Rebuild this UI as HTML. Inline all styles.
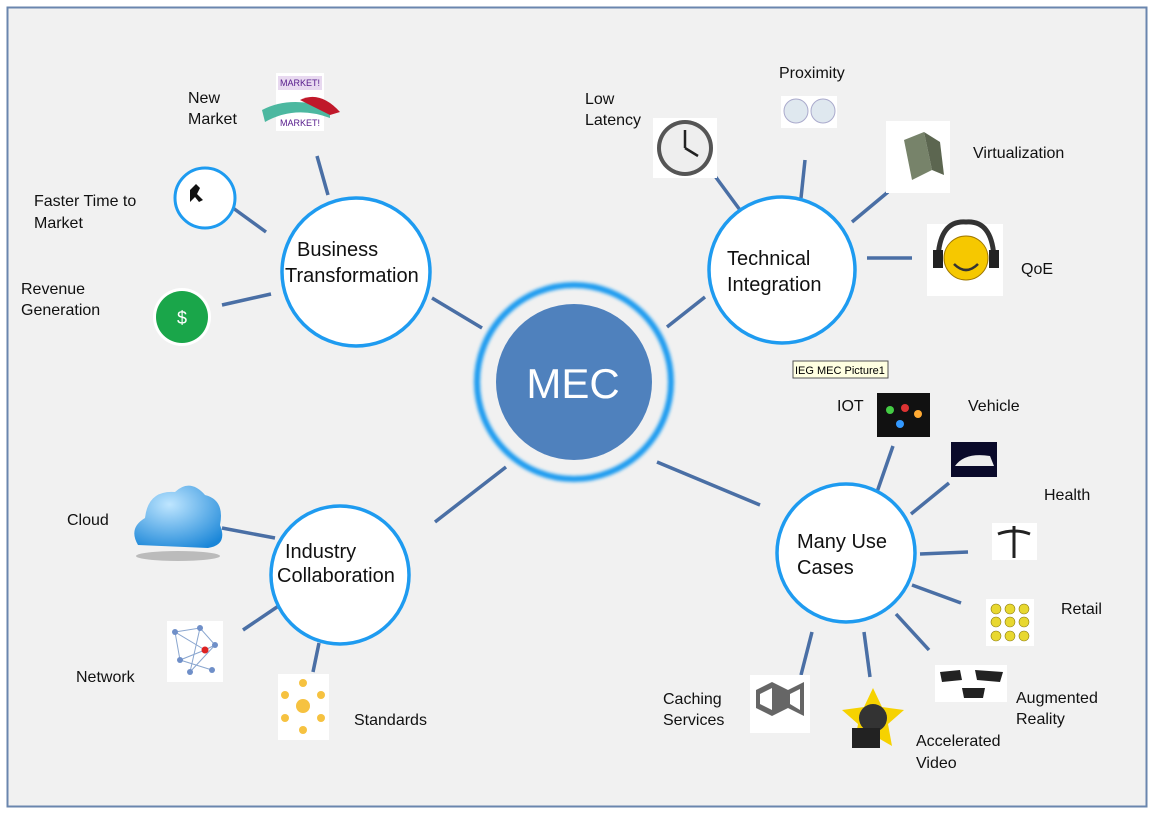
<!DOCTYPE html>
<html><head><style>
html,body{margin:0;padding:0;background:#fff;}
svg{display:block;font-family:"Liberation Sans",sans-serif;}
</style></head><body>
<svg width="1155" height="814" viewBox="0 0 1155 814" xmlns="http://www.w3.org/2000/svg">
<defs>
<filter id="bl" x="-20%" y="-20%" width="140%" height="140%"><feGaussianBlur stdDeviation="1.5"/></filter>
<radialGradient id="cl" cx="0.4" cy="0.3" r="0.8"><stop offset="0" stop-color="#bfe6ff"/><stop offset="1" stop-color="#1a86d8"/></radialGradient>
</defs>
<rect x="0" y="0" width="1155" height="814" fill="#fff"/>
<rect x="7.5" y="7.5" width="1139" height="799" fill="#f1f1f1" stroke="#6a86ae" stroke-width="2"/>

<g stroke="#4a6fa5" stroke-width="3.5" fill="none">
<line x1="432" y1="298" x2="482" y2="328"/>
<line x1="667" y1="327" x2="705" y2="297"/>
<line x1="435" y1="522" x2="506" y2="467"/>
<line x1="657" y1="462" x2="760" y2="505"/>
<line x1="317" y1="156" x2="328" y2="195"/>
<line x1="233" y1="208" x2="266" y2="232"/>
<line x1="222" y1="305" x2="271" y2="294"/>
<line x1="712" y1="172" x2="740" y2="210"/>
<line x1="805" y1="160" x2="801" y2="198"/>
<line x1="852" y1="222" x2="888" y2="192"/>
<line x1="867" y1="258" x2="912" y2="258"/>
<line x1="222" y1="528" x2="275" y2="538"/>
<line x1="243" y1="630" x2="280" y2="605"/>
<line x1="313" y1="672" x2="319" y2="643"/>
<line x1="877" y1="492" x2="893" y2="446"/>
<line x1="911" y1="514" x2="949" y2="483"/>
<line x1="920" y1="554" x2="968" y2="552"/>
<line x1="912" y1="585" x2="961" y2="603"/>
<line x1="896" y1="614" x2="929" y2="650"/>
<line x1="864" y1="632" x2="870" y2="677"/>
<line x1="812" y1="632" x2="801" y2="675"/>
</g>

<circle cx="574" cy="382" r="97" fill="none" stroke="#1e9bf0" stroke-width="6" filter="url(#bl)"/>
<circle cx="574" cy="382" r="78" fill="#4f81bd"/>
<text x="573" y="398" font-size="42" fill="#fff" text-anchor="middle">MEC</text>

<g fill="#fff" stroke="#1e9bf0" stroke-width="3.5">
<circle cx="356" cy="272" r="74"/>
<circle cx="782" cy="270" r="73"/>
<circle cx="340" cy="575" r="69"/>
<circle cx="846" cy="553" r="69"/>
</g>
<g font-size="20" fill="#111">
<text x="297" y="256">Business</text>
<text x="285" y="282">Transformation</text>
<text x="727" y="265">Technical</text>
<text x="727" y="291">Integration</text>
<text x="285" y="558">Industry</text>
<text x="277" y="582">Collaboration</text>
<text x="797" y="548">Many Use</text>
<text x="797" y="574">Cases</text>
</g>

<g font-size="16" fill="#111">
<text x="188" y="103">New</text><text x="188" y="124">Market</text>
<text x="34" y="206">Faster Time to</text><text x="34" y="228">Market</text>
<text x="21" y="294">Revenue</text><text x="21" y="315">Generation</text>
<text x="585" y="104">Low</text><text x="585" y="125">Latency</text>
<text x="779" y="78">Proximity</text>
<text x="973" y="158">Virtualization</text>
<text x="1021" y="274">QoE</text>
<text x="837" y="411">IOT</text>
<text x="968" y="411">Vehicle</text>
<text x="1044" y="500">Health</text>
<text x="1061" y="614">Retail</text>
<text x="1016" y="703">Augmented</text><text x="1016" y="724">Reality</text>
<text x="916" y="746">Accelerated</text><text x="916" y="768">Video</text>
<text x="663" y="704">Caching</text><text x="663" y="725">Services</text>
<text x="67" y="525">Cloud</text>
<text x="76" y="682">Network</text>
<text x="354" y="725">Standards</text>
</g>

<rect x="276" y="73" width="48" height="58" fill="#fff"/>
<rect x="278" y="76" width="44" height="14" fill="#e8d9f0"/>
<text x="300" y="86" font-size="9" text-anchor="middle" fill="#551a8b">MARKET!</text>
<path d="M262 110 Q290 95 330 108 L330 118 Q295 105 265 122Z" fill="#4cb8a0"/>
<path d="M300 100 Q320 90 340 112 L330 115Z" fill="#c0182a"/>
<text x="300" y="126" font-size="9" text-anchor="middle" fill="#551a8b">MARKET!</text>

<circle cx="205" cy="198" r="30" fill="#fff" stroke="#1e9bf0" stroke-width="3"/>
<path d="M190 190 l6 -6 l4 4 l-3 6 l6 6 l-4 2 l-4 -5 l-5 5z" fill="#111"/>

<circle cx="182" cy="317" r="29" fill="#fff"/>
<circle cx="182" cy="317" r="26" fill="#1aa64a"/>
<text x="182" y="324" font-size="18" fill="#fff" text-anchor="middle">$</text>

<rect x="653" y="118" width="64" height="60" fill="#fff"/>
<circle cx="685" cy="148" r="28" fill="#555"/><circle cx="685" cy="148" r="24" fill="#eee"/>
<path d="M685 148 L685 130 M685 148 L698 156" stroke="#222" stroke-width="2.5"/>

<rect x="781" y="96" width="56" height="32" fill="#fff"/>
<circle cx="796" cy="111" r="12" fill="#dfe8ef" stroke="#aac" /><circle cx="823" cy="111" r="12" fill="#dfe8ef" stroke="#aac"/>

<rect x="886" y="121" width="64" height="72" fill="#fff"/>
<path d="M904 140 L924 132 L932 170 L912 180Z" fill="#77836a"/>
<path d="M924 132 L940 142 L944 175 L932 170Z" fill="#5c6650"/>

<rect x="927" y="224" width="76" height="72" fill="#fff"/>
<circle cx="966" cy="258" r="22" fill="#f6c800" stroke="#a07800"/>
<path d="M938 258 Q940 220 966 222 Q992 220 994 258" fill="none" stroke="#333" stroke-width="5"/>
<rect x="933" y="250" width="10" height="18" fill="#222"/><rect x="989" y="250" width="10" height="18" fill="#222"/>
<path d="M954 264 Q966 276 978 264" stroke="#333" stroke-width="2.5" fill="none"/>

<rect x="793" y="361" width="95" height="17" fill="#ffffe1" stroke="#555"/>
<text x="795" y="374" font-size="11" fill="#000">IEG MEC Picture1</text>

<rect x="877" y="393" width="53" height="44" fill="#111"/>
<circle cx="890" cy="410" r="4" fill="#4c4"/><circle cx="905" cy="408" r="4" fill="#d33"/><circle cx="918" cy="414" r="4" fill="#fa3"/><circle cx="900" cy="424" r="4" fill="#39f"/>
<rect x="951" y="442" width="46" height="35" fill="#0a0a2a"/>
<path d="M955 466 Q965 452 990 456 L994 466Z" fill="#eee"/>

<rect x="992" y="523" width="45" height="37" fill="#fff"/>
<path d="M1014 526 L1014 558 M998 534 Q1014 528 1030 534" stroke="#222" stroke-width="3" fill="none"/>

<rect x="986" y="599" width="48" height="47" fill="#fff"/>
<g fill="#e8d830" stroke="#8a7a10" stroke-width="0.6">
<circle cx="996" cy="609" r="5"/><circle cx="1010" cy="609" r="5"/><circle cx="1024" cy="609" r="5"/>
<circle cx="996" cy="622" r="5"/><circle cx="1010" cy="622" r="5"/><circle cx="1024" cy="622" r="5"/>
<circle cx="996" cy="636" r="5"/><circle cx="1010" cy="636" r="5"/><circle cx="1024" cy="636" r="5"/></g>

<rect x="935" y="665" width="72" height="37" fill="#fff"/>
<path d="M940 672 L960 670 L962 680 L942 682Z M975 670 L1003 672 L1000 682 L977 680Z M962 688 L985 688 L983 698 L964 698Z" fill="#222"/>

<path d="M873 688 L882 707 L904 710 L888 724 L892 746 L873 735 L854 746 L858 724 L842 710 L864 707Z" fill="#f6d200"/>
<circle cx="873" cy="718" r="14" fill="#333"/>
<rect x="852" y="728" width="28" height="20" fill="#222"/>

<rect x="750" y="675" width="60" height="58" fill="#fff"/>
<path d="M756 690 L772 682 L788 690 L804 682 L804 716 L788 708 L772 716 L756 708Z" fill="#666"/>
<path d="M760 694 L772 688 L772 710 L760 704Z M790 694 L800 689 L800 710 L790 704Z" fill="#fff"/>

<ellipse cx="178" cy="556" rx="42" ry="5" fill="#bbb"/>
<path d="M138 545 Q128 528 145 518 Q148 490 175 492 Q190 478 205 495 Q225 500 220 525 Q228 545 208 548 Z" fill="url(#cl)"/>

<rect x="167" y="621" width="56" height="61" fill="#fff"/>
<g stroke="#8aa6cf" stroke-width="1" fill="none"><path d="M175 632 L200 628 L215 645 L205 650 L180 660 L175 632 L205 650 M200 628 L190 672 L215 645 M180 660 L212 670"/></g>
<g fill="#6f8fc8"><circle cx="175" cy="632" r="3"/><circle cx="200" cy="628" r="3"/><circle cx="215" cy="645" r="3"/><circle cx="180" cy="660" r="3"/><circle cx="190" cy="672" r="3"/><circle cx="212" cy="670" r="3"/></g>
<circle cx="205" cy="650" r="3.5" fill="#d22"/>

<rect x="278" y="674" width="51" height="66" fill="#fff"/>
<g fill="#f6c240"><circle cx="303" cy="706" r="7"/><circle cx="303" cy="683" r="4"/><circle cx="303" cy="730" r="4"/><circle cx="285" cy="695" r="4"/><circle cx="321" cy="695" r="4"/><circle cx="285" cy="718" r="4"/><circle cx="321" cy="718" r="4"/></g>
</svg>
</body></html>
